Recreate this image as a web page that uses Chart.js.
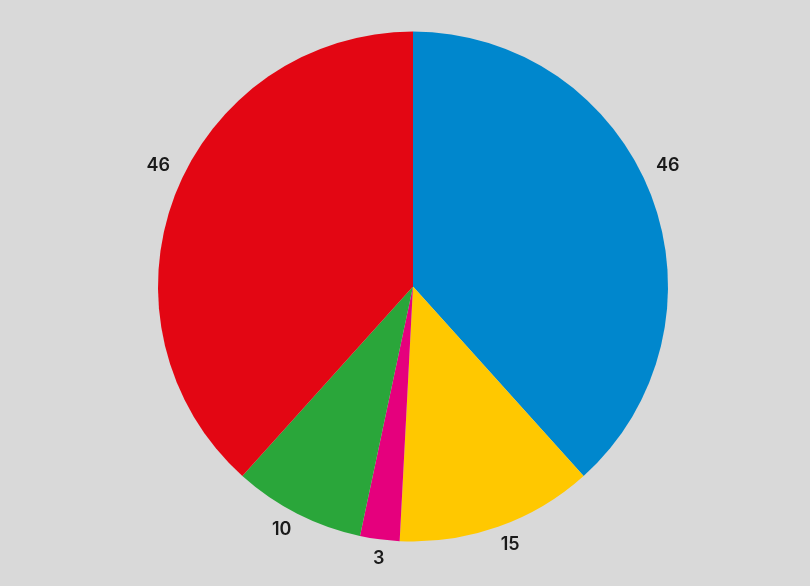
<!DOCTYPE html>
<html>
<head>
<meta charset="utf-8">
<script src="https://cdn.jsdelivr.net/npm/chart.js@4/dist/chart.umd.min.js"></script>
<style>
  html, body { margin: 0; padding: 0; background: #d9d9d9; }
  #wrap { width: 810px; height: 586px; position: relative; }
</style>
</head>
<body>
<div id="wrap"><canvas id="c" width="810" height="586"></canvas></div>
<script>
const categories = ["Blue", "Yellow", "Pink", "Green", "Red"];
const values = [46, 15, 3, 10, 46];
const colors = ["#0087cd", "#ffc800", "#e5007d", "#2aa63a", "#e30613"];

const outsideLabels = {
  id: 'outsideLabels',
  afterDatasetsDraw(chart, args, opts) {
    const ctx = chart.ctx;
    const meta = chart.getDatasetMeta(0);
    ctx.save();
    ctx.font = '600 18px Inter, "Liberation Sans", Arial, sans-serif';
    ctx.fillStyle = '#1a1a1a';
    ctx.textAlign = 'center';
    ctx.textBaseline = 'middle';
    meta.data.forEach((arc, i) => {
      const p = arc.getProps(['x', 'y', 'startAngle', 'endAngle', 'outerRadius'], true);
      const mid = (p.startAngle + p.endAngle) / 2 + (opts.angleNudge[i] || 0) * Math.PI / 180;
      const r = p.outerRadius + (opts.gap[i] || 22);
      ctx.fillText(String(values[i]), p.x + Math.cos(mid) * r, p.y + Math.sin(mid) * r + 0.5);
    });
    ctx.restore();
  }
};

new Chart(document.getElementById('c'), {
  type: 'pie',
  data: {
    labels: categories,
    datasets: [{ data: values, backgroundColor: colors, borderWidth: 0 }]
  },
  options: {
    responsive: false,
    animation: false,
    layout: { padding: { left: 158, right: 142, top: 31.5, bottom: 44.5 } },
    plugins: {
      legend: { display: false },
      tooltip: { enabled: false },
      outsideLabels: { angleNudge: [-4.4, -1.2, -0.3, 1.4, 4.4], gap: [27, 20, 19, 21, 27] }
    }
  },
  plugins: [outsideLabels]
});
</script>
</body>
</html>
